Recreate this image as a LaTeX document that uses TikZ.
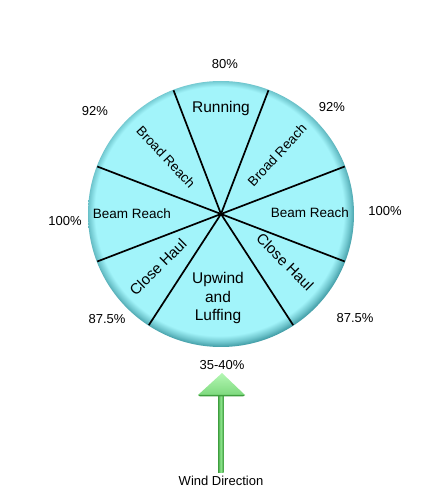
\documentclass[tikz,border=0pt]{standalone}
\usepackage{fontspec}
\setmainfont{Liberation Sans}
\definecolor{cy}{HTML}{A2F4FA}
\definecolor{cyd}{HTML}{2F8C96}
\definecolor{gl}{HTML}{B4F7B4}
\definecolor{gm}{HTML}{8EE88E}
\definecolor{gd}{HTML}{3E9E3E}
\pgfdeclareradialshading{discshade}{\pgfpoint{-0.6bp}{1.0bp}}{color(0bp)=(cy); color(23.4bp)=(cy); color(24.6bp)=(cyd!45!cy); color(25.8bp)=(cyd); color(50bp)=(cyd)}
\begin{document}
\begin{tikzpicture}[x=1pt,y=1pt,
  lab/.style={font=\fontsize{13.5}{15}\selectfont, inner sep=0pt},
  big/.style={font=\fontsize{15.5}{18.5}\selectfont, inner sep=0pt, align=center},
  pct/.style={font=\fontsize{13}{15}\selectfont, inner sep=0pt},
  spoke/.style={line width=1.7pt, black}]
\useasboundingbox (0,0) rectangle (432,504);
\coordinate (c) at (221,290);
\shade[shading=discshade] (c) circle (133);
\foreach \a in {111,69,21,-21,-57,-123,-159,159}
  \draw[spoke] (c) -- ++(\a:132.5);
% sector labels
\node[big] (run) at (221,396) {Running};
\node[lab, font=\fontsize{13.5}{15}\selectfont, rotate=-47] (brl) at (166,347) {Broad Reach};
\node[lab, font=\fontsize{13.5}{15}\selectfont, rotate=47] (brr) at (277,349) {Broad Reach};
\node[lab] (bml) at (132,290) {Beam Reach};
\node[lab] (bmr) at (310,291) {Beam Reach};
\node[lab, font=\fontsize{15}{17}\selectfont, rotate=45] (chl) at (158,237) {Close Haul};
\node[lab, font=\fontsize{15}{17}\selectfont, rotate=-45] (chr) at (285,242) {Close Haul};
\node[big] (up) at (218,206) {Upwind\\and\\Luffing};
% percentages
\node[pct] (p80) at (225,440) {80\%};
\node[pct] (p92l) at (95,393) {92\%};
\node[pct] (p92r) at (332,397) {92\%};
\node[pct] (p100l) at (65,283) {100\%};
\node[pct] (p100r) at (385,293) {100\%};
\node[pct] (p87l) at (107,185) {87.5\%};
\node[pct] (p87r) at (355,186) {87.5\%};
\node[pct] (p35) at (222,139) {35-40\%};
% wind arrow
\shade[left color=gd, right color=gd, middle color=gm] (218,31) rectangle (223.5,110);
\shade[top color=gl, bottom color=gm!80!gd] (222,131) -- (245,109) -- (198,109) -- cycle;
\fill[gd] (198,109) -- (245,109) -- (243,107.5) -- (200,107.5) -- cycle;
\node[pct] (wind) at (221,23) {Wind Direction};
\end{tikzpicture}
\end{document}
